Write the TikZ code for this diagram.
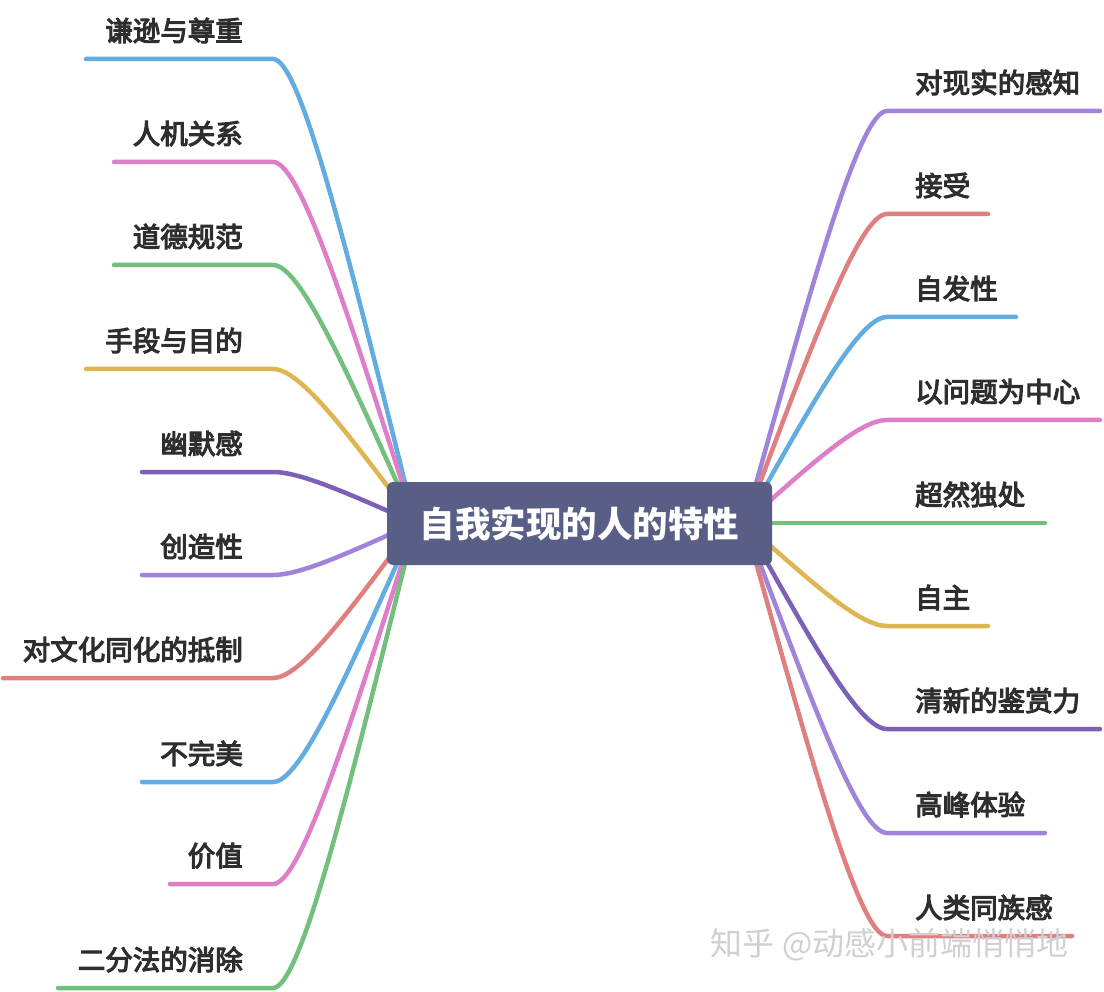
\documentclass[tikz,border=0pt]{standalone}
\usepackage{fontspec}
\setmainfont{Noto Sans CJK SC}
\newfontfamily\cjkmed{Noto Sans CJK SC}[FakeBold=4]
\usetikzlibrary{calc}
\definecolor{cBlue}{HTML}{62ACE1}
\definecolor{cPink}{HTML}{DE7EC8}
\definecolor{cGreen}{HTML}{73C07D}
\definecolor{cYellow}{HTML}{DFB552}
\definecolor{cDPurple}{HTML}{7C60B8}
\definecolor{cLav}{HTML}{A084DC}
\definecolor{cRed}{HTML}{E07F7F}
\definecolor{rootFill}{HTML}{585E86}
\definecolor{labelGray}{HTML}{2E2E2E}
\definecolor{wmGray}{HTML}{D0D0D0}
\begin{document}
\begin{tikzpicture}[x=1pt,y=-1pt,
  br/.style={line width=4.5pt, line cap=round},
  lbl/.style={font=\cjkmed\fontsize{27.5}{32}\selectfont, text=labelGray, inner sep=0pt},
  rootbox/.style={fill=rootFill, rounded corners=6pt, minimum width=385pt, minimum height=83pt,
    text=white, font=\fontsize{35.5}{40}\selectfont\bfseries, inner sep=0pt},
  wmark/.style={font=\fontsize{32}{36}\selectfont, text=wmGray, inner sep=0pt}]
\useasboundingbox (0,0) rectangle (1104,992);
\fill[white] (0,0) rectangle (1104,992);
\coordinate (oL) at (415,523);
\coordinate (oR) at (745,523);
% right branches
\foreach \y/\c/\e/\t [count=\i] in {
  111/cLav/1100/对现实的感知,
  214/cRed/988/接受,
  317/cBlue/1016/自发性,
  420/cPink/1100/以问题为中心,
  523/cGreen/1045/超然独处,
  626/cYellow/988/自主,
  729/cDPurple/1100/清新的鉴赏力,
  833/cLav/1045/高峰体验,
  936/cRed/1072/人类同族感} {
  \coordinate (qR\i) at (860,\y);
  \coordinate (pR\i) at (887,\y);
  \coordinate (eR\i) at (\e,\y);
  \draw[br, draw=\c] (oR) .. controls ($(oR)!0.6!(qR\i)$) and (qR\i) .. (pR\i) -- (eR\i);
  \node[lbl, anchor=base west] (tR\i) at (915,\y-18) {\t};
}
% left branches
\foreach \y/\c/\e/\t [count=\i] in {
  59/cBlue/86/谦逊与尊重,
  162/cPink/114/人机关系,
  265/cGreen/114/道德规范,
  369/cYellow/86/手段与目的,
  472/cDPurple/142/幽默感,
  575/cLav/142/创造性,
  678/cRed/3/对文化同化的抵制,
  782/cBlue/142/不完美,
  884/cPink/170/价值,
  988/cGreen/58/二分法的消除} {
  \coordinate (qL\i) at (300,\y);
  \coordinate (pL\i) at (273,\y);
  \coordinate (eL\i) at (\e,\y);
  \draw[br, draw=\c] (oL) .. controls ($(oL)!0.6!(qL\i)$) and (qL\i) .. (pL\i) -- (eL\i);
  \node[lbl, anchor=base east] (tL\i) at (243,\y-18) {\t};
}
\node[rootbox] (root) at (579.5,523.5) {自我实现的人的特性};
\node[wmark, anchor=base west] (wm) at (710,955) {知乎\hspace{8pt}@动感小前端悄悄地};
\end{tikzpicture}
\end{document}
